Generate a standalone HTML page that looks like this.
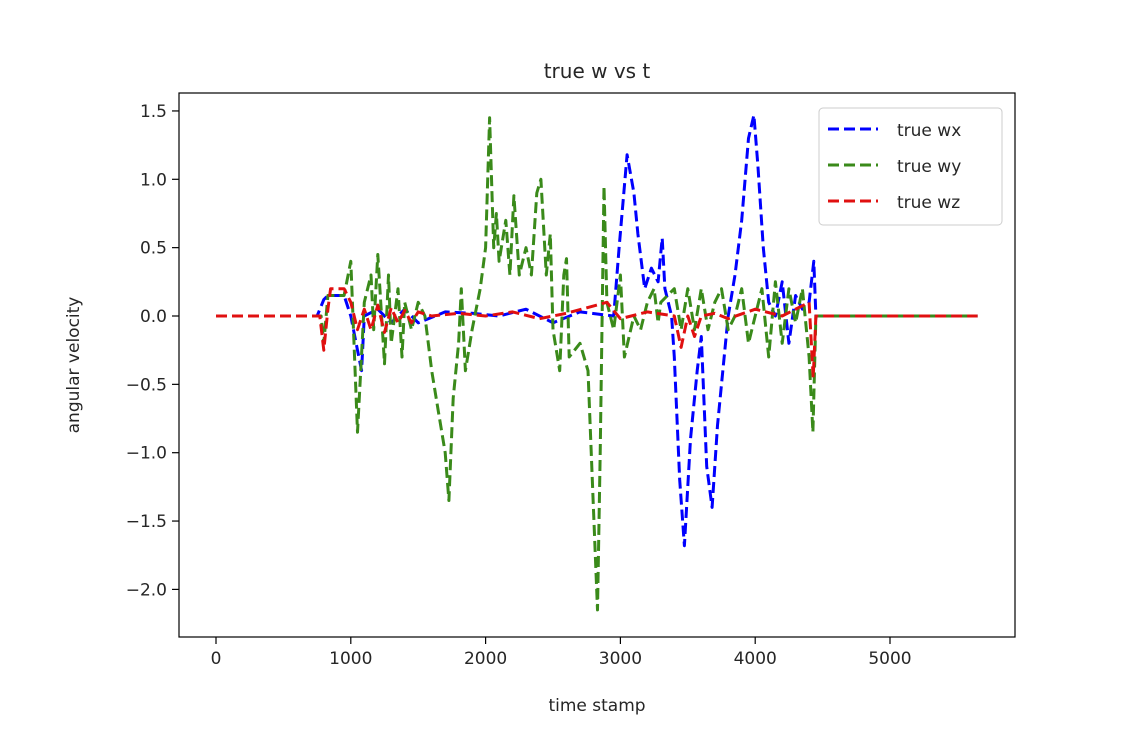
<!DOCTYPE html>
<html><head><meta charset="utf-8"><style>
body{margin:0;background:#fff;}
svg text{font-family:"DejaVu Sans","Liberation Sans",sans-serif;fill:#262626;}
</style></head><body>
<svg id="chart" width="1130" height="747" xmlns="http://www.w3.org/2000/svg">
<rect width="1130" height="747" fill="#fff"/>
<text x="597" y="78" font-size="20" text-anchor="middle">true w vs t</text>
<g id="plot"></g>
<g id="axes"></g>
<text x="597" y="711" font-size="17" text-anchor="middle">time stamp</text>
<text transform="translate(79,365) rotate(-90)" font-size="17" text-anchor="middle">angular velocity</text>
<g>
<rect x="819" y="108" width="183" height="117" rx="4" fill="#fff" fill-opacity="0.8" stroke="#ccc"/>
<line x1="828" y1="129" x2="878" y2="129" stroke="#0000ff" stroke-width="3" stroke-dasharray="11,5"/>
<text x="897" y="136" font-size="17">true wx</text>
<line x1="828" y1="165" x2="878" y2="165" stroke="#3a8a1a" stroke-width="3" stroke-dasharray="11,5"/>
<text x="897" y="172" font-size="17">true wy</text>
<line x1="828" y1="201" x2="878" y2="201" stroke="#e01010" stroke-width="3" stroke-dasharray="11,5"/>
<text x="897" y="208" font-size="17">true wz</text>
</g>
</svg>
<script>
const xTicks=[0,1000,2000,3000,4000,5000];
const yTicks=[1.5,1.0,0.5,0.0,-0.5,-1.0,-1.5,-2.0];
const yTickLabels=["1.5","1.0","0.5","0.0","\u22120.5","\u22121.0","\u22121.5","\u22122.0"];
const wxT=[0,750,800,830,950,1000,1050,1080,1100,1200,1300,1400,1500,1700,1900,2100,2300,2500,2700,2950,2990,3050,3100,3130,3180,3230,3280,3310,3330,3380,3400,3440,3475,3520,3570,3600,3640,3680,3720,3780,3800,3850,3900,3950,3990,4020,4060,4100,4150,4200,4250,4300,4350,4400,4435,4450,4600,5650];
const wxV=[0,0,0.12,0.15,0.15,0,-0.25,-0.4,0,0.05,-0.05,0.05,-0.05,0.03,0.02,0.0,0.05,-0.05,0.03,0,0.5,1.18,0.9,0.6,0.2,0.35,0.25,0.57,0.2,0,-0.3,-1.2,-1.68,-0.9,-0.4,-0.15,-1.1,-1.4,-0.8,-0.2,0,0.3,0.7,1.3,1.47,1.1,0.5,0.1,0,0.25,-0.2,0.15,0.05,0.1,0.4,0,0,0];
const wyT=[0,780,800,830,950,1000,1050,1100,1150,1170,1200,1250,1280,1300,1350,1380,1400,1450,1500,1550,1600,1650,1700,1728,1760,1800,1820,1850,1900,1960,2000,2030,2060,2080,2100,2150,2180,2210,2250,2300,2340,2380,2410,2450,2480,2500,2550,2580,2600,2620,2700,2760,2800,2830,2850,2878,2900,2950,3000,3030,3100,3150,3200,3250,3280,3300,3400,3450,3500,3550,3600,3650,3700,3750,3800,3850,3900,3950,4000,4050,4100,4150,4200,4250,4300,4350,4400,4428,4450,4600,5650];
const wyV=[0,0,-0.2,0.15,0.15,0.4,-0.85,0.1,0.3,-0.1,0.45,-0.35,0.3,-0.2,0.2,-0.3,0.1,-0.1,0.1,0,-0.4,-0.7,-1.0,-1.35,-0.6,-0.2,0.2,-0.4,-0.1,0.2,0.5,1.45,0.5,0.75,0.4,0.7,0.3,0.88,0.3,0.5,0.3,0.9,1.0,0.3,0.6,-0.1,-0.4,0.3,0.42,-0.3,-0.2,-0.4,-1.4,-2.15,-1.0,0.95,0.1,-0.1,0.3,-0.3,0,-0.1,0.1,0.2,-0.05,0.1,0.2,-0.1,0.2,-0.1,0.2,-0.1,0.1,0.2,-0.1,0,0.2,-0.2,0,0.2,-0.3,0.25,-0.2,0.2,-0.05,0.2,-0.3,-0.85,0,0,0];
const wzT=[0,770,800,830,850,950,1000,1050,1100,1150,1200,1250,1300,1350,1400,1450,1500,1600,1800,2000,2200,2400,2600,2900,3000,3200,3400,3450,3500,3550,3600,3700,3800,4000,4200,4400,4430,4450,4600,5650];
const wzV=[0,0,-0.25,0.05,0.2,0.2,0.1,-0.1,0.05,-0.1,0.08,-0.12,0.06,-0.05,0.04,-0.05,0.03,0,0.02,0,0.03,-0.02,0.02,0.1,-0.02,0.03,0,-0.23,0,-0.15,0,0.02,-0.02,0.05,0,0.1,-0.45,0,0,0];
const L=179,R=1015,T=93,B=637;
const X=t=>216+t*0.1348, Y=v=>316-v*136.7;
const ns="http://www.w3.org/2000/svg";
const plot=document.getElementById('plot'), axes=document.getElementById('axes');
function mk(tag,attrs,parent){const e=document.createElementNS(ns,tag);for(const k in attrs)e.setAttribute(k,attrs[k]);parent.appendChild(e);return e;}
function series(ts,vs,color,name){
  const d=ts.map((t,i)=>(i?'L':'M')+X(t).toFixed(1)+','+Y(vs[i]).toFixed(1)).join('');
  const p=mk('path',{d:d,fill:'none',stroke:color,'stroke-width':3,'stroke-dasharray':'11,5','stroke-linejoin':'round'},plot);
  
  
}
series(wxT,wxV,'#0000ff','series-wx');
series(wyT,wyV,'#3a8a1a','series-wy');
series(wzT,wzV,'#e01010','series-wz');
const fr=mk('rect',{x:L,y:T,width:R-L,height:B-T,fill:'none',stroke:'#000','stroke-width':1.2},axes);


xTicks.forEach(t=>{
  const l=mk('line',{x1:X(t),x2:X(t),y1:B,y2:B+7,stroke:'#000','stroke-width':1.2},axes);
  
  
  const tx=mk('text',{x:X(t),y:B+27,'font-size':17,'text-anchor':'middle'},axes);
  tx.textContent=t;
  
  
});
yTicks.forEach((v,i)=>{
  const l=mk('line',{x1:L-7,x2:L,y1:Y(v),y2:Y(v),stroke:'#000','stroke-width':1.2},axes);
  
  
  const tx=mk('text',{x:L-12,y:Y(v)+6,'font-size':17,'text-anchor':'end'},axes);
  tx.textContent=yTickLabels[i];
  
  
});
</script>
</body></html>
